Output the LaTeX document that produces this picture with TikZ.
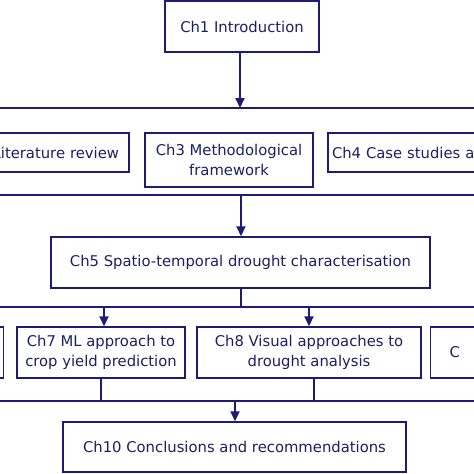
\documentclass[tikz,border=0pt]{standalone}
\usepackage{fontspec}
\setmainfont{DejaVu Sans}
\usetikzlibrary{arrows.meta}
\definecolor{navy}{RGB}{28,28,118}
\definecolor{ink}{RGB}{30,30,100}
\tikzset{
  chbox/.style={draw=navy, line width=1.4pt, rectangle, inner sep=0pt, text=ink,
    font=\fontsize{14.8}{20.5}\selectfont, align=center},
  bus/.style={draw=navy, line width=1.8pt},
  link/.style={draw=navy, line width=1.8pt},
  flow/.style={draw=navy, line width=1.8pt, -{Triangle[width=9pt,length=10pt]}},
}
\begin{document}
\begin{tikzpicture}[x=1pt,y=-1pt]
\useasboundingbox (0,0) rectangle (474,474);
\clip (0,0) rectangle (474,474);
\fill[white] (0,0) rectangle (474,474);
% boxes
\node[chbox, minimum width=154pt, minimum height=51pt] (ch1) at (242,26.5) {Ch1 Introduction};
\node[chbox, minimum width=189pt, minimum height=39pt, text width=169pt, align=right] (ch2) at (34.5,152.5) {Ch2 Literature review};
\node[chbox, minimum width=168pt, minimum height=54pt] (ch3) at (229,160) {Ch3 Methodological\\framework};
\node[chbox, minimum width=212pt, minimum height=39pt, text width=204pt, align=left] (ch4) at (434,152.5) {Ch4 Case studies a};
\node[chbox, minimum width=379pt, minimum height=51pt] (ch5) at (240.5,262.5) {Ch5 Spatio-temporal drought characterisation};
\node[chbox, minimum width=103.5pt, minimum height=51pt] (ch6) at (-48,352.5) {};
\node[chbox, minimum width=168pt, minimum height=51pt] (ch7) at (101,352.5) {Ch7 ML approach to\\crop yield prediction};
\node[chbox, minimum width=224pt, minimum height=51pt] (ch8) at (309,352.5) {Ch8 Visual approaches to\\drought analysis};
\node[chbox, minimum width=130pt, minimum height=51pt, text width=92pt, align=left, anchor=west] (ch9) at (430,352.5) {C\\ };
\node[chbox, minimum width=343pt, minimum height=50pt] (ch10) at (234.5,447) {Ch10 Conclusions and recommendations};
% bus lines
\coordinate (b1L) at (-5,108); \coordinate (b1R) at (479,108);
\coordinate (b2L) at (-5,195); \coordinate (b2R) at (479,195);
\coordinate (b3L) at (-5,307); \coordinate (b3R) at (479,307);
\coordinate (b4L) at (-5,401); \coordinate (b4R) at (479,401);
\draw[bus] (b1L) -- (b1R);
\draw[bus] (b2L) -- (b2R);
\draw[bus] (b3L) -- (b3R);
\draw[bus] (b4L) -- (b4R);
% connectors
\coordinate (a1) at (240,108);
\draw[flow] (ch1.south -| a1) -- (a1);
\coordinate (a2) at (241,195);
\draw[flow] (a2) -- (a2 |- ch5.north);
\coordinate (a3) at (241,307);
\draw[link] (a3 |- ch5.south) -- (a3);
\coordinate (a4) at (104,307);
\draw[flow] (a4) -- (a4 |- ch7.north);
\coordinate (a5) at (309,307);
\draw[flow] (a5) -- (a5 |- ch8.north);
\coordinate (a6) at (101,401);
\draw[link] (a6 |- ch7.south) -- (a6);
\coordinate (a7) at (314,401);
\draw[link] (a7 |- ch8.south) -- (a7);
\coordinate (a8) at (235,401);
\draw[flow] (a8) -- (a8 |- ch10.north);
\end{tikzpicture}
\end{document}
